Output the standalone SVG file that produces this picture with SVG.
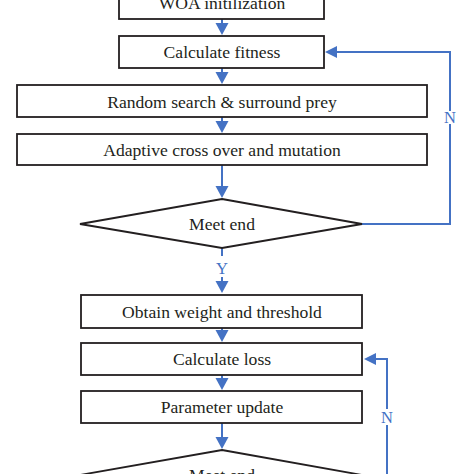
<svg xmlns="http://www.w3.org/2000/svg" width="474" height="474" viewBox="0 0 474 474">
  <defs>
    <style>
      .box { fill: #ffffff; stroke: #231f20; stroke-width: 1.8; }
      .lbl { font-family: "Liberation Serif", "Times New Roman", serif; font-size: 17.6px; fill: #231f20; text-anchor: middle; }
      .yn { font-family: "Liberation Serif", "Times New Roman", serif; font-size: 16.5px; fill: #4472c4; text-anchor: middle; }
      .wire { fill: none; stroke: #4472c4; stroke-width: 2; }
      .head { fill: #4472c4; }
    </style>
  </defs>
  <rect width="474" height="474" fill="#ffffff"/>

  <g id="connectors">
    <line class="wire" x1="222" y1="19" x2="222" y2="24"/>
    <polygon class="head" points="215.5,23 228.5,23 222,35"/>
    <line class="wire" x1="222" y1="68" x2="222" y2="73"/>
    <polygon class="head" points="215.5,72 228.5,72 222,84"/>
    <line class="wire" x1="222" y1="117" x2="222" y2="122"/>
    <polygon class="head" points="215.5,121 228.5,121 222,133"/>
    <line class="wire" x1="222" y1="165" x2="222" y2="187"/>
    <polygon class="head" points="215.5,186 228.5,186 222,198"/>
    <polyline class="wire" points="362,224 450,224 450,124"/>
    <polyline class="wire" points="450,111 450,52 336,52"/>
    <polygon class="head" points="337,46 337,58 325,52"/>
    <line class="wire" x1="222" y1="248" x2="222" y2="256"/>
    <line class="wire" x1="222" y1="277" x2="222" y2="282"/>
    <polygon class="head" points="215.5,281 228.5,281 222,293"/>
    <line class="wire" x1="222" y1="328" x2="222" y2="331"/>
    <polygon class="head" points="215.5,330 228.5,330 222,342"/>
    <line class="wire" x1="222" y1="375" x2="222" y2="379"/>
    <polygon class="head" points="215.5,378 228.5,378 222,390"/>
    <line class="wire" x1="222" y1="423" x2="222" y2="438"/>
    <polygon class="head" points="215.5,437 228.5,437 222,449"/>
    <polyline class="wire" points="362,475 387,475 387,425"/>
    <polyline class="wire" points="387,409 387,359 375,359"/>
    <polygon class="head" points="376,353 376,365 364,359"/>
    <text class="yn" x="450" y="123">N</text>
    <text class="yn" x="222" y="274">Y</text>
    <text class="yn" x="387" y="422.5">N</text>
  </g>

  <g id="woa-init">
    <rect class="box" x="119" y="-13" width="205" height="32"/>
    <text class="lbl" x="222" y="9">WOA initilization</text>
  </g>
  <g id="calc-fitness">
    <rect class="box" x="119" y="36" width="205" height="32"/>
    <text class="lbl" x="222" y="58">Calculate fitness</text>
  </g>
  <g id="random-search">
    <rect class="box" x="17" y="85" width="410" height="32"/>
    <text class="lbl" x="222" y="107.5">Random search &amp; surround prey</text>
  </g>
  <g id="adaptive">
    <rect class="box" x="17" y="134" width="410" height="31"/>
    <text class="lbl" x="222" y="156">Adaptive cross over and mutation</text>
  </g>
  <g id="meet-end-1">
    <polygon class="box" points="222,199 362,224 222,248 80,224"/>
    <text class="lbl" x="222" y="230">Meet end</text>
  </g>
  <g id="obtain-weight">
    <rect class="box" x="81" y="295" width="281" height="33"/>
    <text class="lbl" x="222" y="317.5">Obtain weight and threshold</text>
  </g>
  <g id="calc-loss">
    <rect class="box" x="81" y="343" width="281" height="32"/>
    <text class="lbl" x="222" y="365">Calculate loss</text>
  </g>
  <g id="param-update">
    <rect class="box" x="81" y="391" width="281" height="32"/>
    <text class="lbl" x="222" y="413">Parameter update</text>
  </g>
  <g id="meet-end-2">
    <polygon class="box" points="222,450 362,475 222,500 80,475"/>
    <text class="lbl" x="222" y="481">Meet end</text>
  </g>
</svg>
